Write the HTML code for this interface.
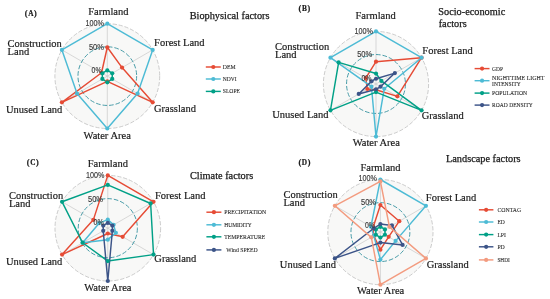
<!DOCTYPE html>
<html><head><meta charset="utf-8"><style>
html,body{margin:0;padding:0;background:#fff;}
body{width:550px;height:299px;overflow:hidden;}
svg{display:block;filter:blur(0.3px);}
</style></head><body>
<svg width="550" height="299" viewBox="0 0 550 299">
<rect width="550" height="299" fill="#fff"/>
<circle cx="107.3" cy="76.1" r="52.4" fill="#F8F8F7"/>
<line x1="107.3" y1="76.1" x2="107.3" y2="23.7" stroke="#C8C8C8" stroke-width="0.7"/>
<line x1="107.3" y1="76.1" x2="152.68" y2="49.9" stroke="#C8C8C8" stroke-width="0.7"/>
<line x1="107.3" y1="76.1" x2="152.68" y2="102.3" stroke="#C8C8C8" stroke-width="0.7"/>
<line x1="107.3" y1="76.1" x2="107.3" y2="128.5" stroke="#C8C8C8" stroke-width="0.7"/>
<line x1="107.3" y1="76.1" x2="61.92" y2="102.3" stroke="#C8C8C8" stroke-width="0.7"/>
<line x1="107.3" y1="76.1" x2="61.92" y2="49.9" stroke="#C8C8C8" stroke-width="0.7"/>
<circle cx="107.3" cy="76.1" r="5.24" fill="none" stroke="#BDBDBD" stroke-width="0.8" stroke-dasharray="2.6 1.6"/>
<circle cx="107.3" cy="76.1" r="29.34" fill="none" stroke="#4A9DA9" stroke-width="1.0" stroke-dasharray="4.6 2.0"/>
<circle cx="107.3" cy="76.1" r="52.4" fill="none" stroke="#C6C6C6" stroke-width="0.9" stroke-dasharray="4.2 1.8"/>
<polygon points="107.3,47.28 122.05,67.58 152.68,102.3 107.3,81.34 61.92,102.3 101.54,72.77" fill="none" stroke="#E64B35" stroke-width="1.45" stroke-linejoin="round"/>
<polygon points="107.3,23.7 152.68,49.9 137.57,93.58 107.3,128.5 77.03,93.58 61.92,49.9" fill="none" stroke="#4DBBD5" stroke-width="1.45" stroke-linejoin="round"/>
<polygon points="107.3,70.39 112.25,73.24 112.25,78.96 107.3,82.28 102.35,78.96 102.35,73.24" fill="none" stroke="#00A087" stroke-width="1.45" stroke-linejoin="round"/>
<circle cx="107.3" cy="47.28" r="2.1" fill="#E64B35"/>
<circle cx="122.05" cy="67.58" r="2.1" fill="#E64B35"/>
<circle cx="152.68" cy="102.3" r="2.1" fill="#E64B35"/>
<circle cx="107.3" cy="81.34" r="2.1" fill="#E64B35"/>
<circle cx="61.92" cy="102.3" r="2.1" fill="#E64B35"/>
<circle cx="101.54" cy="72.77" r="2.1" fill="#E64B35"/>
<circle cx="107.3" cy="23.7" r="2.1" fill="#4DBBD5"/>
<circle cx="152.68" cy="49.9" r="2.1" fill="#4DBBD5"/>
<circle cx="137.57" cy="93.58" r="2.1" fill="#4DBBD5"/>
<circle cx="107.3" cy="128.5" r="2.1" fill="#4DBBD5"/>
<circle cx="77.03" cy="93.58" r="2.1" fill="#4DBBD5"/>
<circle cx="61.92" cy="49.9" r="2.1" fill="#4DBBD5"/>
<circle cx="107.3" cy="70.39" r="2.1" fill="#00A087"/>
<circle cx="112.25" cy="73.24" r="2.1" fill="#00A087"/>
<circle cx="112.25" cy="78.96" r="2.1" fill="#00A087"/>
<circle cx="107.3" cy="82.28" r="2.1" fill="#00A087"/>
<circle cx="102.35" cy="78.96" r="2.1" fill="#00A087"/>
<circle cx="102.35" cy="73.24" r="2.1" fill="#00A087"/>
<text x="108.4" y="15.1" text-anchor="middle" font-family="Liberation Serif, serif" font-size="10.5" fill="#1a1a1a" stroke="#1a1a1a" stroke-width="0.18">Farmland</text>
<text x="154.1" y="46.2" font-family="Liberation Serif, serif" font-size="10.5" fill="#1a1a1a" stroke="#1a1a1a" stroke-width="0.18">Forest Land</text>
<text x="154" y="111.5" font-family="Liberation Serif, serif" font-size="10.5" fill="#1a1a1a" stroke="#1a1a1a" stroke-width="0.18">Grassland</text>
<text x="107.2" y="138.9" text-anchor="middle" font-family="Liberation Serif, serif" font-size="10.5" fill="#1a1a1a" stroke="#1a1a1a" stroke-width="0.18">Water Area</text>
<text x="62.3" y="112.7" text-anchor="end" font-family="Liberation Serif, serif" font-size="10.5" fill="#1a1a1a" stroke="#1a1a1a" stroke-width="0.18">Unused Land</text>
<text x="7.6" y="47.4" font-family="Liberation Serif, serif" font-size="10.5" fill="#1a1a1a" stroke="#1a1a1a" stroke-width="0.18">Construction</text>
<text x="7.6" y="55.2" font-family="Liberation Serif, serif" font-size="10.5" fill="#1a1a1a" stroke="#1a1a1a" stroke-width="0.18">Land</text>
<text x="104" y="25.6" textLength="18.4" lengthAdjust="spacingAndGlyphs" font-family="Liberation Sans, sans-serif" font-size="8.3" fill="#3a3a3a" stroke="#3a3a3a" stroke-width="0.15" text-anchor="end">100%</text>
<text x="103.9" y="50.2" textLength="15.0" lengthAdjust="spacingAndGlyphs" font-family="Liberation Sans, sans-serif" font-size="8.3" fill="#3a3a3a" stroke="#3a3a3a" stroke-width="0.15" text-anchor="end">50%</text>
<text x="101.6" y="73" textLength="10.0" lengthAdjust="spacingAndGlyphs" font-family="Liberation Sans, sans-serif" font-size="8.3" fill="#3a3a3a" stroke="#3a3a3a" stroke-width="0.15" text-anchor="end">0%</text>
<text x="24.7" y="15.5" font-family="Liberation Serif, serif" font-weight="bold" font-size="8.2" letter-spacing="0.7" fill="#1a1a1a" stroke="#1a1a1a" stroke-width="0.2">(<tspan font-size="7.3">A</tspan>)</text>
<line x1="205.8" y1="67" x2="220.8" y2="67" stroke="#E64B35" stroke-width="1.45"/>
<circle cx="213.3" cy="67" r="2.1" fill="#E64B35"/>
<text x="222.8" y="69" textLength="12.8" font-family="Liberation Serif, serif" font-size="6.8" fill="#2e2e2e" stroke="#2e2e2e" stroke-width="0.12" lengthAdjust="spacingAndGlyphs">DEM</text>
<line x1="205.8" y1="79" x2="220.8" y2="79" stroke="#4DBBD5" stroke-width="1.45"/>
<circle cx="213.3" cy="79" r="2.1" fill="#4DBBD5"/>
<text x="222.8" y="81" textLength="13.8" font-family="Liberation Serif, serif" font-size="6.8" fill="#2e2e2e" stroke="#2e2e2e" stroke-width="0.12" lengthAdjust="spacingAndGlyphs">NDVI</text>
<line x1="205.8" y1="91.4" x2="220.8" y2="91.4" stroke="#00A087" stroke-width="1.45"/>
<circle cx="213.3" cy="91.4" r="2.1" fill="#00A087"/>
<text x="222.8" y="93.4" textLength="17.2" font-family="Liberation Serif, serif" font-size="6.8" fill="#2e2e2e" stroke="#2e2e2e" stroke-width="0.12" lengthAdjust="spacingAndGlyphs">SLOPE</text>
<circle cx="376" cy="84" r="52.6" fill="#F8F8F7"/>
<line x1="376" y1="84" x2="376" y2="31.4" stroke="#C8C8C8" stroke-width="0.7"/>
<line x1="376" y1="84" x2="421.55" y2="57.7" stroke="#C8C8C8" stroke-width="0.7"/>
<line x1="376" y1="84" x2="421.55" y2="110.3" stroke="#C8C8C8" stroke-width="0.7"/>
<line x1="376" y1="84" x2="376" y2="136.6" stroke="#C8C8C8" stroke-width="0.7"/>
<line x1="376" y1="84" x2="330.45" y2="110.3" stroke="#C8C8C8" stroke-width="0.7"/>
<line x1="376" y1="84" x2="330.45" y2="57.7" stroke="#C8C8C8" stroke-width="0.7"/>
<circle cx="376" cy="84" r="5.26" fill="none" stroke="#BDBDBD" stroke-width="0.8" stroke-dasharray="2.6 1.6"/>
<circle cx="376" cy="84" r="29.46" fill="none" stroke="#4A9DA9" stroke-width="1.0" stroke-dasharray="4.6 2.0"/>
<circle cx="376" cy="84" r="52.6" fill="none" stroke="#C6C6C6" stroke-width="0.9" stroke-dasharray="4.2 1.8"/>
<polygon points="376,61.7 421.55,57.7 397.36,96.33 376,89.73 367.34,89 365.71,78.06" fill="none" stroke="#E64B35" stroke-width="1.45" stroke-linejoin="round"/>
<polygon points="376,31.4 421.55,57.7 384.25,88.76 376,136.6 371.44,86.63 330.45,57.7" fill="none" stroke="#4DBBD5" stroke-width="1.45" stroke-linejoin="round"/>
<polygon points="376,73.53 381.38,80.9 421.55,110.3 376,92.1 330.45,110.3 338.65,62.43" fill="none" stroke="#00A087" stroke-width="1.45" stroke-linejoin="round"/>
<polygon points="376,78.74 394.9,73.09 380.56,86.63 376,89.26 358.74,93.97 371.44,81.37" fill="none" stroke="#3C5488" stroke-width="1.45" stroke-linejoin="round"/>
<circle cx="376" cy="61.7" r="2.1" fill="#E64B35"/>
<circle cx="421.55" cy="57.7" r="2.1" fill="#E64B35"/>
<circle cx="397.36" cy="96.33" r="2.1" fill="#E64B35"/>
<circle cx="376" cy="89.73" r="2.1" fill="#E64B35"/>
<circle cx="367.34" cy="89" r="2.1" fill="#E64B35"/>
<circle cx="365.71" cy="78.06" r="2.1" fill="#E64B35"/>
<circle cx="376" cy="31.4" r="2.1" fill="#4DBBD5"/>
<circle cx="421.55" cy="57.7" r="2.1" fill="#4DBBD5"/>
<circle cx="384.25" cy="88.76" r="2.1" fill="#4DBBD5"/>
<circle cx="376" cy="136.6" r="2.1" fill="#4DBBD5"/>
<circle cx="371.44" cy="86.63" r="2.1" fill="#4DBBD5"/>
<circle cx="330.45" cy="57.7" r="2.1" fill="#4DBBD5"/>
<circle cx="376" cy="73.53" r="2.1" fill="#00A087"/>
<circle cx="381.38" cy="80.9" r="2.1" fill="#00A087"/>
<circle cx="421.55" cy="110.3" r="2.1" fill="#00A087"/>
<circle cx="376" cy="92.1" r="2.1" fill="#00A087"/>
<circle cx="330.45" cy="110.3" r="2.1" fill="#00A087"/>
<circle cx="338.65" cy="62.43" r="2.1" fill="#00A087"/>
<circle cx="376" cy="78.74" r="2.1" fill="#3C5488"/>
<circle cx="394.9" cy="73.09" r="2.1" fill="#3C5488"/>
<circle cx="380.56" cy="86.63" r="2.1" fill="#3C5488"/>
<circle cx="376" cy="89.26" r="2.1" fill="#3C5488"/>
<circle cx="358.74" cy="93.97" r="2.1" fill="#3C5488"/>
<circle cx="371.44" cy="81.37" r="2.1" fill="#3C5488"/>
<text x="375.6" y="18.5" text-anchor="middle" font-family="Liberation Serif, serif" font-size="10.5" fill="#1a1a1a" stroke="#1a1a1a" stroke-width="0.18">Farmland</text>
<text x="422.3" y="54.3" font-family="Liberation Serif, serif" font-size="10.5" fill="#1a1a1a" stroke="#1a1a1a" stroke-width="0.18">Forest Land</text>
<text x="421.7" y="119.3" font-family="Liberation Serif, serif" font-size="10.5" fill="#1a1a1a" stroke="#1a1a1a" stroke-width="0.18">Grassland</text>
<text x="376.3" y="146.4" text-anchor="middle" font-family="Liberation Serif, serif" font-size="10.5" fill="#1a1a1a" stroke="#1a1a1a" stroke-width="0.18">Water Area</text>
<text x="328.5" y="118.2" text-anchor="end" font-family="Liberation Serif, serif" font-size="10.5" fill="#1a1a1a" stroke="#1a1a1a" stroke-width="0.18">Unused Land</text>
<text x="275" y="50.2" font-family="Liberation Serif, serif" font-size="10.5" fill="#1a1a1a" stroke="#1a1a1a" stroke-width="0.18">Construction</text>
<text x="275" y="57.8" font-family="Liberation Serif, serif" font-size="10.5" fill="#1a1a1a" stroke="#1a1a1a" stroke-width="0.18">Land</text>
<text x="372.8" y="33.9" textLength="18.4" lengthAdjust="spacingAndGlyphs" font-family="Liberation Sans, sans-serif" font-size="8.3" fill="#3a3a3a" stroke="#3a3a3a" stroke-width="0.15" text-anchor="end">100%</text>
<text x="372.2" y="57.4" textLength="15.0" lengthAdjust="spacingAndGlyphs" font-family="Liberation Sans, sans-serif" font-size="8.3" fill="#3a3a3a" stroke="#3a3a3a" stroke-width="0.15" text-anchor="end">50%</text>
<text x="371.5" y="80.6" textLength="10.0" lengthAdjust="spacingAndGlyphs" font-family="Liberation Sans, sans-serif" font-size="8.3" fill="#3a3a3a" stroke="#3a3a3a" stroke-width="0.15" text-anchor="end">0%</text>
<text x="298.6" y="10.8" font-family="Liberation Serif, serif" font-weight="bold" font-size="8.2" letter-spacing="0.7" fill="#1a1a1a" stroke="#1a1a1a" stroke-width="0.2">(<tspan font-size="7.3">B</tspan>)</text>
<line x1="474.6" y1="68.6" x2="489.5" y2="68.6" stroke="#E64B35" stroke-width="1.45"/>
<circle cx="482.05" cy="68.6" r="2.1" fill="#E64B35"/>
<text x="492.1" y="70.6" textLength="10.9" font-family="Liberation Serif, serif" font-size="6.8" fill="#2e2e2e" stroke="#2e2e2e" stroke-width="0.12" lengthAdjust="spacingAndGlyphs">GDP</text>
<line x1="474.6" y1="80.7" x2="489.5" y2="80.7" stroke="#4DBBD5" stroke-width="1.45"/>
<circle cx="482.05" cy="80.7" r="2.1" fill="#4DBBD5"/>
<text x="492.1" y="79.7" textLength="52.4" font-family="Liberation Serif, serif" font-size="6.8" fill="#2e2e2e" stroke="#2e2e2e" stroke-width="0.12" lengthAdjust="spacingAndGlyphs">NIGHTTIME LIGHT</text>
<text x="492.1" y="85.5" textLength="28.7" font-family="Liberation Serif, serif" font-size="6.8" fill="#2e2e2e" stroke="#2e2e2e" stroke-width="0.12" lengthAdjust="spacingAndGlyphs">INTENSITY</text>
<line x1="474.6" y1="93.1" x2="489.5" y2="93.1" stroke="#00A087" stroke-width="1.45"/>
<circle cx="482.05" cy="93.1" r="2.1" fill="#00A087"/>
<text x="492.1" y="95.1" textLength="35.0" font-family="Liberation Serif, serif" font-size="6.8" fill="#2e2e2e" stroke="#2e2e2e" stroke-width="0.12" lengthAdjust="spacingAndGlyphs">POPULATION</text>
<line x1="474.6" y1="105.1" x2="489.5" y2="105.1" stroke="#3C5488" stroke-width="1.45"/>
<circle cx="482.05" cy="105.1" r="2.1" fill="#3C5488"/>
<text x="492.1" y="107.1" textLength="40.7" font-family="Liberation Serif, serif" font-size="6.8" fill="#2e2e2e" stroke="#2e2e2e" stroke-width="0.12" lengthAdjust="spacingAndGlyphs">ROAD DENSITY</text>
<circle cx="107.8" cy="228.2" r="52.8" fill="#F8F8F7"/>
<line x1="107.8" y1="228.2" x2="107.8" y2="175.4" stroke="#C8C8C8" stroke-width="0.7"/>
<line x1="107.8" y1="228.2" x2="153.53" y2="201.8" stroke="#C8C8C8" stroke-width="0.7"/>
<line x1="107.8" y1="228.2" x2="153.53" y2="254.6" stroke="#C8C8C8" stroke-width="0.7"/>
<line x1="107.8" y1="228.2" x2="107.8" y2="281" stroke="#C8C8C8" stroke-width="0.7"/>
<line x1="107.8" y1="228.2" x2="62.07" y2="254.6" stroke="#C8C8C8" stroke-width="0.7"/>
<line x1="107.8" y1="228.2" x2="62.07" y2="201.8" stroke="#C8C8C8" stroke-width="0.7"/>
<circle cx="107.8" cy="228.2" r="5.28" fill="none" stroke="#BDBDBD" stroke-width="0.8" stroke-dasharray="2.6 1.6"/>
<circle cx="107.8" cy="228.2" r="29.57" fill="none" stroke="#4A9DA9" stroke-width="1.0" stroke-dasharray="4.6 2.0"/>
<circle cx="107.8" cy="228.2" r="52.8" fill="none" stroke="#C6C6C6" stroke-width="0.9" stroke-dasharray="4.2 1.8"/>
<polygon points="107.8,175.4 153.53,201.8 122.66,236.78 107.8,233.48 62.07,254.6 93.35,219.86" fill="none" stroke="#E64B35" stroke-width="1.45" stroke-linejoin="round"/>
<polygon points="107.8,219.59 113.61,224.85 115.87,232.86 107.8,239.66 82.65,242.72 99.11,223.18" fill="none" stroke="#4DBBD5" stroke-width="1.45" stroke-linejoin="round"/>
<polygon points="107.8,184.9 150.65,203.46 153.53,254.6 107.8,261.04 82.65,242.72 62.07,201.8" fill="none" stroke="#00A087" stroke-width="1.45" stroke-linejoin="round"/>
<polygon points="107.8,222.92 112.37,225.56 112.37,230.84 107.8,281 103.23,230.84 103.23,225.56" fill="none" stroke="#3C5488" stroke-width="1.45" stroke-linejoin="round"/>
<circle cx="107.8" cy="175.4" r="2.1" fill="#E64B35"/>
<circle cx="153.53" cy="201.8" r="2.1" fill="#E64B35"/>
<circle cx="122.66" cy="236.78" r="2.1" fill="#E64B35"/>
<circle cx="107.8" cy="233.48" r="2.1" fill="#E64B35"/>
<circle cx="62.07" cy="254.6" r="2.1" fill="#E64B35"/>
<circle cx="93.35" cy="219.86" r="2.1" fill="#E64B35"/>
<circle cx="107.8" cy="219.59" r="2.1" fill="#4DBBD5"/>
<circle cx="113.61" cy="224.85" r="2.1" fill="#4DBBD5"/>
<circle cx="115.87" cy="232.86" r="2.1" fill="#4DBBD5"/>
<circle cx="107.8" cy="239.66" r="2.1" fill="#4DBBD5"/>
<circle cx="82.65" cy="242.72" r="2.1" fill="#4DBBD5"/>
<circle cx="99.11" cy="223.18" r="2.1" fill="#4DBBD5"/>
<circle cx="107.8" cy="184.9" r="2.1" fill="#00A087"/>
<circle cx="150.65" cy="203.46" r="2.1" fill="#00A087"/>
<circle cx="153.53" cy="254.6" r="2.1" fill="#00A087"/>
<circle cx="107.8" cy="261.04" r="2.1" fill="#00A087"/>
<circle cx="82.65" cy="242.72" r="2.1" fill="#00A087"/>
<circle cx="62.07" cy="201.8" r="2.1" fill="#00A087"/>
<circle cx="107.8" cy="222.92" r="2.1" fill="#3C5488"/>
<circle cx="112.37" cy="225.56" r="2.1" fill="#3C5488"/>
<circle cx="112.37" cy="230.84" r="2.1" fill="#3C5488"/>
<circle cx="107.8" cy="281" r="2.1" fill="#3C5488"/>
<circle cx="103.23" cy="230.84" r="2.1" fill="#3C5488"/>
<circle cx="103.23" cy="225.56" r="2.1" fill="#3C5488"/>
<text x="107.8" y="167.3" text-anchor="middle" font-family="Liberation Serif, serif" font-size="10.5" fill="#1a1a1a" stroke="#1a1a1a" stroke-width="0.18">Farmland</text>
<text x="155" y="198.5" font-family="Liberation Serif, serif" font-size="10.5" fill="#1a1a1a" stroke="#1a1a1a" stroke-width="0.18">Forest Land</text>
<text x="154.3" y="262.3" font-family="Liberation Serif, serif" font-size="10.5" fill="#1a1a1a" stroke="#1a1a1a" stroke-width="0.18">Grassland</text>
<text x="107.9" y="290.8" text-anchor="middle" font-family="Liberation Serif, serif" font-size="10.5" fill="#1a1a1a" stroke="#1a1a1a" stroke-width="0.18">Water Area</text>
<text x="62.3" y="265.4" text-anchor="end" font-family="Liberation Serif, serif" font-size="10.5" fill="#1a1a1a" stroke="#1a1a1a" stroke-width="0.18">Unused Land</text>
<text x="8.9" y="198.9" font-family="Liberation Serif, serif" font-size="10.5" fill="#1a1a1a" stroke="#1a1a1a" stroke-width="0.18">Construction</text>
<text x="8.9" y="206.5" font-family="Liberation Serif, serif" font-size="10.5" fill="#1a1a1a" stroke="#1a1a1a" stroke-width="0.18">Land</text>
<text x="104.4" y="178.1" textLength="18.4" lengthAdjust="spacingAndGlyphs" font-family="Liberation Sans, sans-serif" font-size="8.3" fill="#3a3a3a" stroke="#3a3a3a" stroke-width="0.15" text-anchor="end">100%</text>
<text x="103" y="201.8" textLength="15.0" lengthAdjust="spacingAndGlyphs" font-family="Liberation Sans, sans-serif" font-size="8.3" fill="#3a3a3a" stroke="#3a3a3a" stroke-width="0.15" text-anchor="end">50%</text>
<text x="103.6" y="224.6" textLength="10.0" lengthAdjust="spacingAndGlyphs" font-family="Liberation Sans, sans-serif" font-size="8.3" fill="#3a3a3a" stroke="#3a3a3a" stroke-width="0.15" text-anchor="end">0%</text>
<text x="26.7" y="165" font-family="Liberation Serif, serif" font-weight="bold" font-size="8.2" letter-spacing="0.7" fill="#1a1a1a" stroke="#1a1a1a" stroke-width="0.2">(<tspan font-size="7.3">C</tspan>)</text>
<line x1="206.4" y1="212.2" x2="221.4" y2="212.2" stroke="#E64B35" stroke-width="1.45"/>
<circle cx="213.9" cy="212.2" r="2.1" fill="#E64B35"/>
<text x="224.3" y="214.2" textLength="41.9" font-family="Liberation Serif, serif" font-size="6.8" fill="#2e2e2e" stroke="#2e2e2e" stroke-width="0.12" lengthAdjust="spacingAndGlyphs">PRECIPITATION</text>
<line x1="206.4" y1="224.8" x2="221.4" y2="224.8" stroke="#4DBBD5" stroke-width="1.45"/>
<circle cx="213.9" cy="224.8" r="2.1" fill="#4DBBD5"/>
<text x="224.3" y="226.8" textLength="27.5" font-family="Liberation Serif, serif" font-size="6.8" fill="#2e2e2e" stroke="#2e2e2e" stroke-width="0.12" lengthAdjust="spacingAndGlyphs">HUMIDITY</text>
<line x1="206.4" y1="236.8" x2="221.4" y2="236.8" stroke="#00A087" stroke-width="1.45"/>
<circle cx="213.9" cy="236.8" r="2.1" fill="#00A087"/>
<text x="224.3" y="238.8" textLength="40.9" font-family="Liberation Serif, serif" font-size="6.8" fill="#2e2e2e" stroke="#2e2e2e" stroke-width="0.12" lengthAdjust="spacingAndGlyphs">TEMPERATURE</text>
<line x1="206.4" y1="249.9" x2="221.4" y2="249.9" stroke="#3C5488" stroke-width="1.45"/>
<circle cx="213.9" cy="249.9" r="2.1" fill="#3C5488"/>
<text x="226.3" y="251.9" textLength="31.4" font-family="Liberation Serif, serif" font-size="6.8" fill="#2e2e2e" stroke="#2e2e2e" stroke-width="0.12" lengthAdjust="spacingAndGlyphs">Wind SPEED</text>
<circle cx="380.4" cy="232.1" r="52.6" fill="#F8F8F7"/>
<line x1="380.4" y1="232.1" x2="380.4" y2="179.5" stroke="#C8C8C8" stroke-width="0.7"/>
<line x1="380.4" y1="232.1" x2="425.95" y2="205.8" stroke="#C8C8C8" stroke-width="0.7"/>
<line x1="380.4" y1="232.1" x2="425.95" y2="258.4" stroke="#C8C8C8" stroke-width="0.7"/>
<line x1="380.4" y1="232.1" x2="380.4" y2="284.7" stroke="#C8C8C8" stroke-width="0.7"/>
<line x1="380.4" y1="232.1" x2="334.85" y2="258.4" stroke="#C8C8C8" stroke-width="0.7"/>
<line x1="380.4" y1="232.1" x2="334.85" y2="205.8" stroke="#C8C8C8" stroke-width="0.7"/>
<circle cx="380.4" cy="232.1" r="5.26" fill="none" stroke="#BDBDBD" stroke-width="0.8" stroke-dasharray="2.6 1.6"/>
<circle cx="380.4" cy="232.1" r="29.46" fill="none" stroke="#4A9DA9" stroke-width="1.0" stroke-dasharray="4.6 2.0"/>
<circle cx="380.4" cy="232.1" r="52.6" fill="none" stroke="#C6C6C6" stroke-width="0.9" stroke-dasharray="4.2 1.8"/>
<polygon points="380.4,205.06 399.3,221.19 388.65,236.86 380.4,249.67 373.79,235.91 372.97,227.81" fill="none" stroke="#E64B35" stroke-width="1.45" stroke-linejoin="round"/>
<polygon points="380.4,179.5 425.95,205.8 395.61,240.88 380.4,259.61 373.79,235.91 370.92,226.63" fill="none" stroke="#4DBBD5" stroke-width="1.45" stroke-linejoin="round"/>
<polygon points="380.4,226.84 384.96,229.47 384.96,234.73 380.4,237.6 375.84,234.73 375.84,229.47" fill="none" stroke="#00A087" stroke-width="1.45" stroke-linejoin="round"/>
<polygon points="380.4,224 391.92,225.45 402.58,244.91 380.4,242.57 334.85,258.4 373.79,228.29" fill="none" stroke="#3C5488" stroke-width="1.45" stroke-linejoin="round"/>
<polygon points="380.4,181.39 389.47,226.87 425.95,258.4 380.4,284.7 371.33,237.33 334.85,205.8" fill="none" stroke="#F39B7F" stroke-width="1.45" stroke-linejoin="round"/>
<circle cx="380.4" cy="205.06" r="2.1" fill="#E64B35"/>
<circle cx="399.3" cy="221.19" r="2.1" fill="#E64B35"/>
<circle cx="388.65" cy="236.86" r="2.1" fill="#E64B35"/>
<circle cx="380.4" cy="249.67" r="2.1" fill="#E64B35"/>
<circle cx="373.79" cy="235.91" r="2.1" fill="#E64B35"/>
<circle cx="372.97" cy="227.81" r="2.1" fill="#E64B35"/>
<circle cx="380.4" cy="179.5" r="2.1" fill="#4DBBD5"/>
<circle cx="425.95" cy="205.8" r="2.1" fill="#4DBBD5"/>
<circle cx="395.61" cy="240.88" r="2.1" fill="#4DBBD5"/>
<circle cx="380.4" cy="259.61" r="2.1" fill="#4DBBD5"/>
<circle cx="373.79" cy="235.91" r="2.1" fill="#4DBBD5"/>
<circle cx="370.92" cy="226.63" r="2.1" fill="#4DBBD5"/>
<circle cx="380.4" cy="226.84" r="2.1" fill="#00A087"/>
<circle cx="384.96" cy="229.47" r="2.1" fill="#00A087"/>
<circle cx="384.96" cy="234.73" r="2.1" fill="#00A087"/>
<circle cx="380.4" cy="237.6" r="2.1" fill="#00A087"/>
<circle cx="375.84" cy="234.73" r="2.1" fill="#00A087"/>
<circle cx="375.84" cy="229.47" r="2.1" fill="#00A087"/>
<circle cx="380.4" cy="224" r="2.1" fill="#3C5488"/>
<circle cx="391.92" cy="225.45" r="2.1" fill="#3C5488"/>
<circle cx="402.58" cy="244.91" r="2.1" fill="#3C5488"/>
<circle cx="380.4" cy="242.57" r="2.1" fill="#3C5488"/>
<circle cx="334.85" cy="258.4" r="2.1" fill="#3C5488"/>
<circle cx="373.79" cy="228.29" r="2.1" fill="#3C5488"/>
<circle cx="380.4" cy="181.39" r="2.1" fill="#F39B7F"/>
<circle cx="389.47" cy="226.87" r="2.1" fill="#F39B7F"/>
<circle cx="425.95" cy="258.4" r="2.1" fill="#F39B7F"/>
<circle cx="380.4" cy="284.7" r="2.1" fill="#F39B7F"/>
<circle cx="371.33" cy="237.33" r="2.1" fill="#F39B7F"/>
<circle cx="334.85" cy="205.8" r="2.1" fill="#F39B7F"/>
<text x="380.5" y="170.9" text-anchor="middle" font-family="Liberation Serif, serif" font-size="10.5" fill="#1a1a1a" stroke="#1a1a1a" stroke-width="0.18">Farmland</text>
<text x="425.8" y="200.5" font-family="Liberation Serif, serif" font-size="10.5" fill="#1a1a1a" stroke="#1a1a1a" stroke-width="0.18">Forest Land</text>
<text x="426.7" y="267.7" font-family="Liberation Serif, serif" font-size="10.5" fill="#1a1a1a" stroke="#1a1a1a" stroke-width="0.18">Grassland</text>
<text x="380.6" y="293.9" text-anchor="middle" font-family="Liberation Serif, serif" font-size="10.5" fill="#1a1a1a" stroke="#1a1a1a" stroke-width="0.18">Water Area</text>
<text x="336.1" y="268.4" text-anchor="end" font-family="Liberation Serif, serif" font-size="10.5" fill="#1a1a1a" stroke="#1a1a1a" stroke-width="0.18">Unused Land</text>
<text x="283.4" y="197.8" font-family="Liberation Serif, serif" font-size="10.5" fill="#1a1a1a" stroke="#1a1a1a" stroke-width="0.18">Construction</text>
<text x="283.4" y="205.5" font-family="Liberation Serif, serif" font-size="10.5" fill="#1a1a1a" stroke="#1a1a1a" stroke-width="0.18">Land</text>
<text x="376.9" y="181" textLength="18.4" lengthAdjust="spacingAndGlyphs" font-family="Liberation Sans, sans-serif" font-size="8.3" fill="#3a3a3a" stroke="#3a3a3a" stroke-width="0.15" text-anchor="end">100%</text>
<text x="376" y="204.8" textLength="15.0" lengthAdjust="spacingAndGlyphs" font-family="Liberation Sans, sans-serif" font-size="8.3" fill="#3a3a3a" stroke="#3a3a3a" stroke-width="0.15" text-anchor="end">50%</text>
<text x="375" y="227.5" textLength="10.0" lengthAdjust="spacingAndGlyphs" font-family="Liberation Sans, sans-serif" font-size="8.3" fill="#3a3a3a" stroke="#3a3a3a" stroke-width="0.15" text-anchor="end">0%</text>
<text x="298.4" y="164.5" font-family="Liberation Serif, serif" font-weight="bold" font-size="8.2" letter-spacing="0.7" fill="#1a1a1a" stroke="#1a1a1a" stroke-width="0.2">(<tspan font-size="7.3">D</tspan>)</text>
<line x1="478.9" y1="209.8" x2="493.4" y2="209.8" stroke="#E64B35" stroke-width="1.45"/>
<circle cx="486.15" cy="209.8" r="2.1" fill="#E64B35"/>
<text x="497.4" y="211.8" textLength="23.7" font-family="Liberation Serif, serif" font-size="6.8" fill="#2e2e2e" stroke="#2e2e2e" stroke-width="0.12" lengthAdjust="spacingAndGlyphs">CONTAG</text>
<line x1="478.9" y1="222" x2="493.4" y2="222" stroke="#4DBBD5" stroke-width="1.45"/>
<circle cx="486.15" cy="222" r="2.1" fill="#4DBBD5"/>
<text x="497.4" y="224" textLength="7.4" font-family="Liberation Serif, serif" font-size="6.8" fill="#2e2e2e" stroke="#2e2e2e" stroke-width="0.12" lengthAdjust="spacingAndGlyphs">ED</text>
<line x1="478.9" y1="234.6" x2="493.4" y2="234.6" stroke="#00A087" stroke-width="1.45"/>
<circle cx="486.15" cy="234.6" r="2.1" fill="#00A087"/>
<text x="497.4" y="236.6" textLength="8.5" font-family="Liberation Serif, serif" font-size="6.8" fill="#2e2e2e" stroke="#2e2e2e" stroke-width="0.12" lengthAdjust="spacingAndGlyphs">LPI</text>
<line x1="478.9" y1="246.8" x2="493.4" y2="246.8" stroke="#3C5488" stroke-width="1.45"/>
<circle cx="486.15" cy="246.8" r="2.1" fill="#3C5488"/>
<text x="497.4" y="248.8" textLength="7.4" font-family="Liberation Serif, serif" font-size="6.8" fill="#2e2e2e" stroke="#2e2e2e" stroke-width="0.12" lengthAdjust="spacingAndGlyphs">PD</text>
<line x1="478.9" y1="259.9" x2="493.4" y2="259.9" stroke="#F39B7F" stroke-width="1.45"/>
<circle cx="486.15" cy="259.9" r="2.1" fill="#F39B7F"/>
<text x="497.4" y="261.9" textLength="12.4" font-family="Liberation Serif, serif" font-size="6.8" fill="#2e2e2e" stroke="#2e2e2e" stroke-width="0.12" lengthAdjust="spacingAndGlyphs">SHDI</text>
<text x="189.7" y="19.3" font-family="Liberation Serif, serif" font-size="10.3" fill="#1a1a1a" stroke="#1a1a1a" stroke-width="0.25">Biophysical factors</text>
<text x="438.3" y="14.8" font-family="Liberation Serif, serif" font-size="10.3" fill="#1a1a1a" stroke="#1a1a1a" stroke-width="0.25">Socio-economic</text>
<text x="438.7" y="26.6" font-family="Liberation Serif, serif" font-size="10.3" fill="#1a1a1a" stroke="#1a1a1a" stroke-width="0.25">factors</text>
<text x="190" y="179.4" font-family="Liberation Serif, serif" font-size="10.3" fill="#1a1a1a" stroke="#1a1a1a" stroke-width="0.25">Climate factors</text>
<text x="446" y="162.2" font-family="Liberation Serif, serif" font-size="10.3" fill="#1a1a1a" stroke="#1a1a1a" stroke-width="0.25">Landscape factors</text>
</svg>
</body></html>
